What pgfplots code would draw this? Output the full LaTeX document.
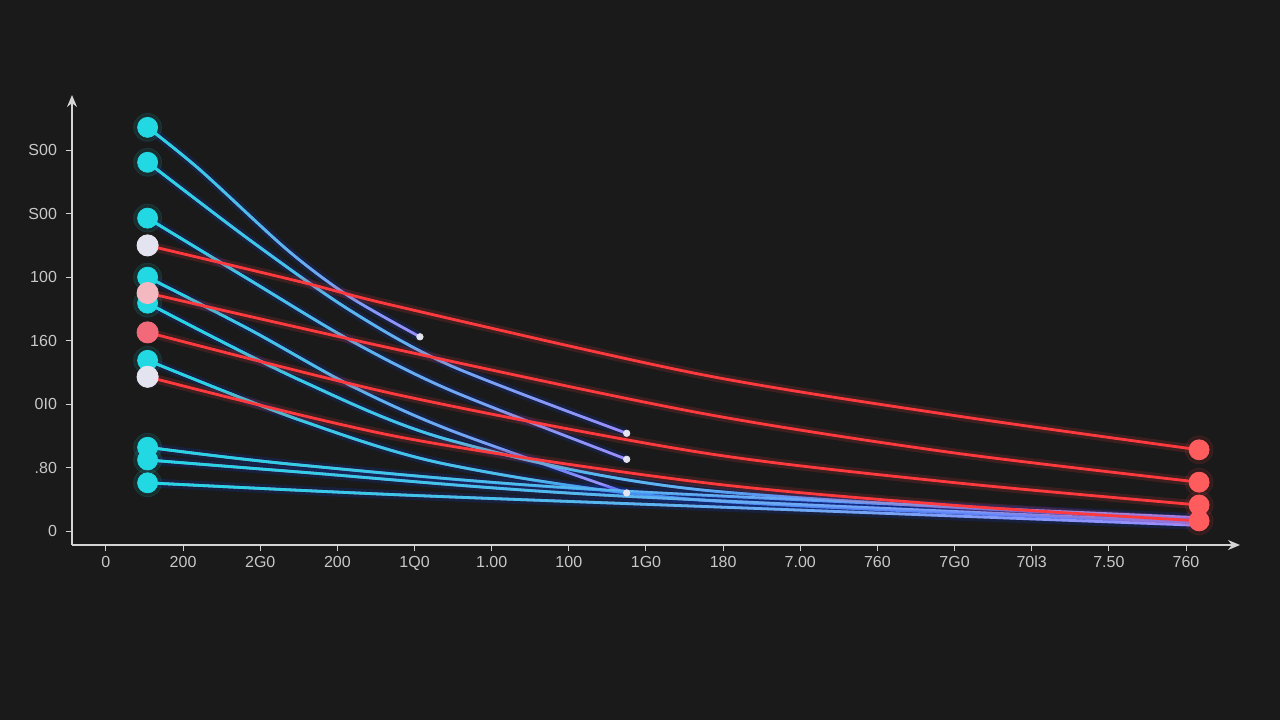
\documentclass[border=0pt]{standalone}
\usepackage{fontspec}
\setmainfont{Liberation Sans}
\usepackage{pgfplots}
\pgfplotsset{compat=1.18}
\usetikzlibrary{arrows.meta,fadings}
\definecolor{bg}{HTML}{1A1A1A}
\definecolor{axisgray}{HTML}{D4D4D4}
\definecolor{labgray}{HTML}{C8C8C8}
\definecolor{cy}{HTML}{22D8E2}
\definecolor{lav}{HTML}{9C8CFF}
\definecolor{rd}{HTML}{FF3A3E}
\definecolor{rdot}{HTML}{FF5C5E}
\definecolor{pinkdot}{HTML}{F4B8C0}
\definecolor{pinkred}{HTML}{F26A7A}
\definecolor{wdot}{HTML}{E4E4F0}
\newcommand\gl[2]{%
  \addplot[#1, line width=4.5pt, opacity=0.16, smooth, forget plot] coordinates {#2};
  \addplot[#1, line width=1.4pt, smooth, forget plot] coordinates {#2};}
\newcommand\glc[1]{%
  \addplot[blue!70!cy, line width=4.5pt, opacity=0.16, smooth, forget plot] coordinates {#1};
  \addplot[lav, line width=1.4pt, smooth, forget plot] coordinates {#1};
  \addplot[cy, line width=1.4pt, smooth, forget plot, path fading=east] coordinates {#1};}
\begin{document}
\begin{tikzpicture}
\fill[bg] (0,0) rectangle (640pt,360pt);
\begin{axis}[
  at={(36pt,87.5pt)}, anchor=south west,
  scale only axis, width=584pt, height=225pt,
  xmin=-0.44, xmax=14.70, ymin=-0.22, ymax=6.87,
  axis lines=left,
  axis line style={draw=axisgray, line width=0.7pt, -{Stealth[length=6pt,width=5pt]}},
  xtick={0,1,...,14},
  xticklabels={0,200,2G0,200,1Q0,1.00,100,1G0,180,7.00,760,7G0,70l3,7.50,760},
  ytick={0,1,...,6},
  yticklabels={0,.80,0I0,160,100,S00,S00},
  tick align=outside, major tick length=3pt,
  tick style={draw=axisgray, line width=0.5pt},
  tick label style={font=\fontsize{8}{9}\selectfont, text=labgray},
  xticklabel style={yshift=1pt},
  yticklabel style={xshift=-1pt},
  clip=false,
]
% cyan series
\glc{(0.54,6.36)(1.22,5.69)(2.35,4.43)(3.16,3.69)(4.07,3.06)}
\glc{(0.54,5.81)(1.87,4.58)(3.16,3.48)(4.46,2.61)(6.75,1.54)}
\glc{(0.54,4.93)(1.87,3.95)(3.16,3.01)(4.46,2.22)(6.75,1.13)}
\glc{(0.54,4.00)(1.87,3.17)(3.16,2.30)(4.46,1.59)(6.75,0.60)}
\glc{(0.54,3.59)(2.51,2.38)(4.46,1.43)(7.70,0.65)(14.17,0.17)}
\glc{(0.54,2.69)(2.51,1.75)(4.46,1.04)(7.70,0.49)(14.17,0.13)}
\glc{(0.54,1.32)(2.51,1.04)(6.40,0.65)(14.17,0.21)}
\glc{(0.54,1.12)(2.51,0.93)(6.40,0.57)(14.17,0.14)}
\glc{(0.54,0.76)(3.81,0.57)(9.00,0.33)(14.17,0.09)}
% red series
\gl{rd}{(0.54,4.50)(2.51,3.93)(3.81,3.53)(7.70,2.47)(10.94,1.83)(14.17,1.28)}
\gl{rd}{(0.54,3.75)(3.81,2.85)(7.70,1.86)(10.94,1.24)(14.17,0.77)}
\gl{rd}{(0.54,3.13)(3.81,2.14)(7.70,1.24)(10.94,0.77)(14.17,0.41)}
\gl{rd}{(0.54,2.43)(3.81,1.48)(7.70,0.77)(10.94,0.41)(14.17,0.16)}
% start dots
\addplot[only marks, mark=*, mark size=7pt, cy, opacity=0.1, forget plot] coordinates {(0.54,6.36)(0.54,5.81)(0.54,4.93)(0.54,4.00)(0.54,3.59)(0.54,2.69)(0.54,1.32)(0.54,1.12)(0.54,0.76)};
\addplot[only marks, mark=*, mark size=5pt, cy, forget plot] coordinates {(0.54,6.36)(0.54,5.81)(0.54,4.93)(0.54,4.00)(0.54,3.59)(0.54,2.69)(0.54,1.32)(0.54,1.12)(0.54,0.76)};
\addplot[only marks, mark=*, mark size=5.3pt, wdot, forget plot] coordinates {(0.54,4.50)(0.54,2.43)};
\addplot[only marks, mark=*, mark size=5.3pt, pinkdot, forget plot] coordinates {(0.54,3.75)};
\addplot[only marks, mark=*, mark size=5.3pt, pinkred, forget plot] coordinates {(0.54,3.13)};
% end dots
\addplot[only marks, mark=*, mark size=7pt, rd, opacity=0.1, forget plot] coordinates {(14.17,1.28)(14.17,0.77)(14.17,0.41)(14.17,0.16)};
\addplot[only marks, mark=*, mark size=5pt, rdot, forget plot] coordinates {(14.17,1.28)(14.17,0.77)(14.17,0.41)(14.17,0.16)};
\addplot[only marks, mark=*, mark size=1.6pt, wdot, forget plot] coordinates {(4.07,3.06)(6.75,1.54)(6.75,1.13)(6.75,0.60)};
\end{axis}
\pgfresetboundingbox
\path (0,0) rectangle (640pt,360pt);
\end{tikzpicture}
\end{document}
